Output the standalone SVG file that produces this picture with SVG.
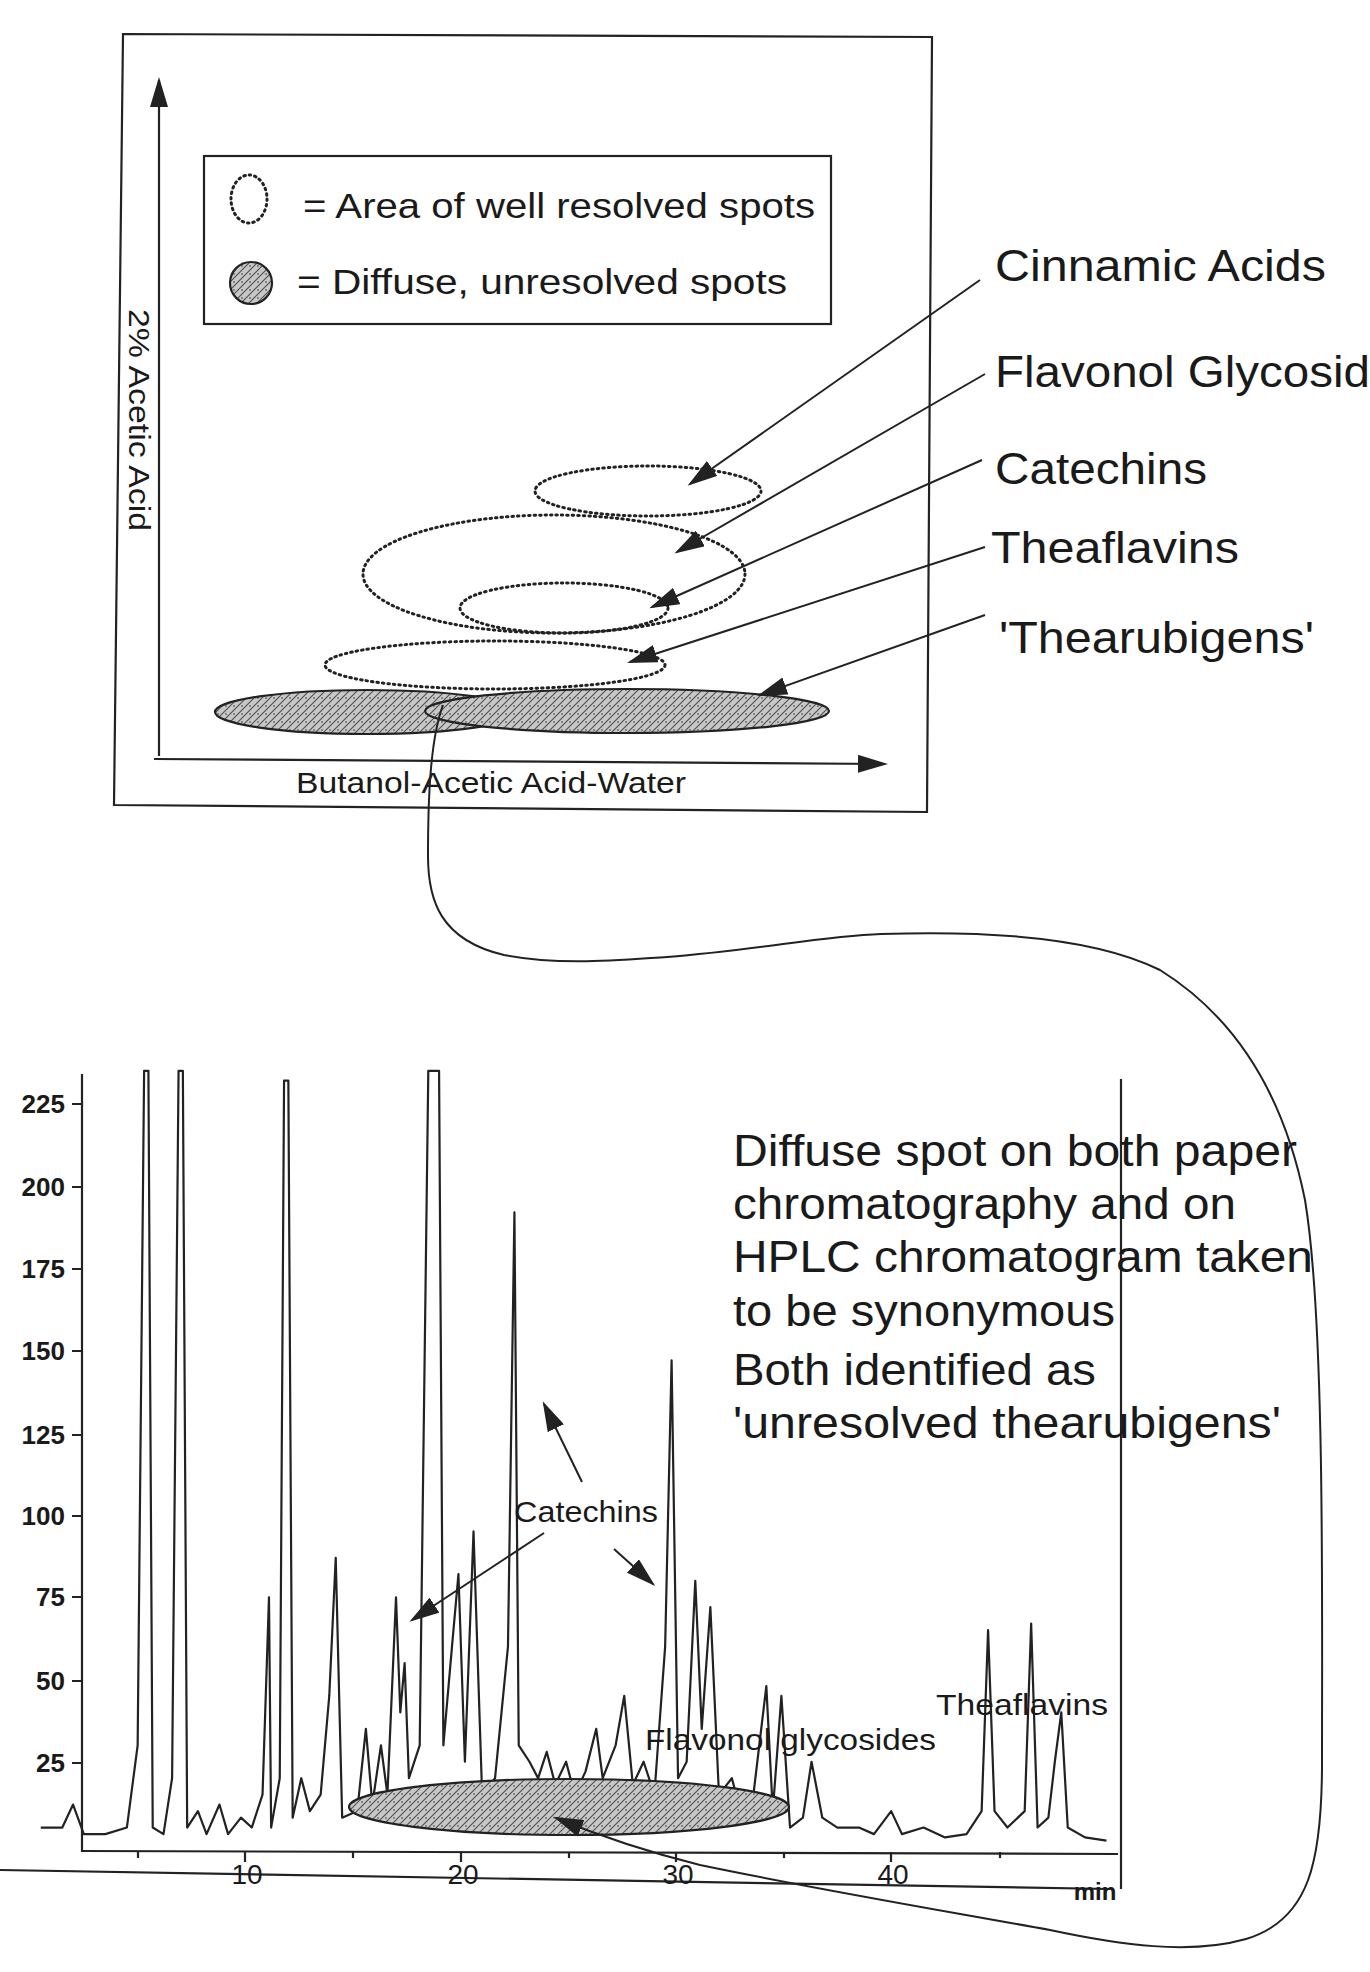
<svg xmlns="http://www.w3.org/2000/svg" width="1370" height="1972" viewBox="0 0 1370 1972">
<style>
.ln{fill:none;stroke:#222;stroke-width:2.2}
.dot{fill:none;stroke:#222;stroke-width:3;stroke-dasharray:1.5 4;stroke-linecap:round}
.sh{fill:url(#hatch);stroke:#222;stroke-width:2.2}
.t{font-family:"Liberation Sans",Arial,sans-serif;fill:#1a1a1a}
</style>
<defs>
<marker id="ah2" viewBox="0 0 10 10" refX="9" refY="5" markerWidth="30" markerHeight="18" markerUnits="userSpaceOnUse" orient="auto" preserveAspectRatio="none"><path d="M0,0 L10,5 L0,10 z" fill="#222"/></marker>
<pattern id="hatch" width="8" height="8" patternUnits="userSpaceOnUse">
<rect width="8" height="8" fill="#c8c8c8"/><path d="M0,8 L8,0 M-2,2 L2,-2 M6,10 L10,6" stroke="#555" stroke-width="1.2"/><circle cx="2" cy="2" r="0.8" fill="#333"/>
</pattern>
</defs>
<rect width="1370" height="1972" fill="#fff"/>
<g id="paper-chart">
<polygon class="ln" points="123,34 932,37 927,812 114,805"/>
<line class="ln" x1="159" y1="756" x2="159" y2="80" style="marker-end:url(#ah2)" stroke-width="2.5"/>
<line class="ln" x1="154" y1="759" x2="885" y2="764" style="marker-end:url(#ah2)" stroke-width="2.5"/>
<text class="t" font-size="30" transform="translate(129,309) rotate(90)" textLength="222" lengthAdjust="spacingAndGlyphs">2% Acetic Acid</text>
<text class="t" font-size="30" x="296" y="793" textLength="390" lengthAdjust="spacingAndGlyphs">Butanol-Acetic Acid-Water</text>
</g>
<g id="legend">
<rect class="ln" x="204" y="156" width="627" height="168"/>
<ellipse class="dot" cx="249" cy="199" rx="18" ry="24"/>
<text class="t" font-size="35" x="303" y="218" textLength="512" lengthAdjust="spacingAndGlyphs">= Area of well resolved spots</text>
<ellipse class="sh" cx="251" cy="283" rx="21" ry="21"/>
<text class="t" font-size="35" x="297" y="294" textLength="490" lengthAdjust="spacingAndGlyphs">= Diffuse, unresolved spots</text>
</g>
<g id="spots">
<ellipse class="dot" cx="648" cy="491" rx="113" ry="25"/>
<ellipse class="dot" cx="554" cy="574" rx="191" ry="59"/>
<ellipse class="dot" cx="564" cy="608" rx="104" ry="25"/>
<ellipse class="dot" cx="495" cy="665" rx="170" ry="24"/>
<ellipse class="sh" cx="367" cy="712" rx="152" ry="22"/>
<ellipse class="sh" cx="627" cy="711" rx="202" ry="22"/>
</g>
<g id="labels" class="t" font-size="44">
<text x="995" y="281" textLength="331" lengthAdjust="spacingAndGlyphs">Cinnamic Acids</text>
<text x="995" y="387" textLength="375" lengthAdjust="spacingAndGlyphs">Flavonol Glycosid</text>
<text x="995" y="484" textLength="212" lengthAdjust="spacingAndGlyphs">Catechins</text>
<text x="991" y="563" textLength="248" lengthAdjust="spacingAndGlyphs">Theaflavins</text>
<text x="999" y="653" textLength="315" lengthAdjust="spacingAndGlyphs">'Thearubigens'</text>
</g>
<g id="chromatogram">
<line class="ln" x1="82" y1="1074" x2="82" y2="1852"/>
<line class="ln" x1="82" y1="1851" x2="1118" y2="1854"/>
<line class="ln" x1="1121" y1="1079" x2="1121" y2="1889"/>
<line class="ln" x1="0" y1="1870" x2="1110" y2="1889"/>
<g class="ln" stroke-width="2">
<path d="M82,1104h-10M82,1187h-10M82,1269h-10M82,1351h-10M82,1435h-10M82,1516h-10M82,1597h-10M82,1681h-10M82,1763h-10"/>
<path d="M245,1852v10M461,1852v10M676,1852v10M891,1852v10M138,1852v6M353,1852v6M569,1852v6M784,1852v6M1000,1852v6"/>
</g>
<g class="t" font-size="26" font-weight="bold" text-anchor="end">
<text x="65" y="1113">225</text><text x="65" y="1196">200</text><text x="65" y="1278">175</text><text x="65" y="1360">150</text><text x="65" y="1444">125</text><text x="65" y="1525">100</text><text x="65" y="1606">75</text><text x="65" y="1690">50</text><text x="65" y="1772">25</text>
</g>
<g class="t" font-size="28" text-anchor="middle">
<text x="247" y="1884">10</text><text x="463" y="1884">20</text><text x="678" y="1884">30</text><text x="893" y="1884">40</text>
<text x="1095" y="1900" font-size="24" font-weight="bold">min</text>
</g>
<polyline transform="matrix(21.53 0 0 -3.29 30 1844)" vector-effect="non-scaling-stroke" fill="none" stroke="#222" stroke-width="2.2" stroke-linejoin="round" points="0.5,5 1.5,5 2.0,12 2.5,3 3.5,3 4.5,5 5.0,30 5.3,235 5.5,235 5.7,5 6.2,3 6.6,20 6.9,235 7.1,235 7.3,5 7.8,10 8.2,3 8.8,12 9.2,3 9.8,8 10.3,5 10.8,15 11.1,75 11.2,5 11.6,20 11.8,232 12.0,232 12.2,8 12.6,20 13.0,10 13.5,15 13.9,45 14.2,87 14.5,8 15.2,10 15.6,35 15.9,12 16.3,30 16.6,15 17.0,75 17.2,40 17.4,55 17.6,20 18.1,30 18.5,235 18.8,235 19.0,235 19.2,30 19.6,60 19.9,82 20.2,25 20.6,95 21.0,15 21.6,20 22.2,60 22.5,192 22.7,30 23.2,25 23.6,20 24.0,28 24.4,18 24.9,25 25.3,15 25.8,22 26.3,35 26.6,20 27.2,30 27.6,45 28.0,18 28.5,25 29.0,15 29.5,60 29.8,147 30.1,20 30.5,25 30.9,80 31.2,35 31.6,72 32.0,15 32.6,20 33.0,10 33.6,15 34.2,48 34.5,10 34.9,45 35.3,5 35.9,8 36.3,25 36.8,8 37.5,5 38.5,5 39.2,3 40.0,10 40.5,3 41.5,5 42.5,2 43.5,3 44.2,10 44.5,65 44.8,10 45.4,5 46.2,10 46.5,67 46.8,5 47.3,8 47.6,25 47.9,40 48.2,5 49.0,2 50,1"/>
<ellipse class="sh" cx="569" cy="1807" rx="220" ry="28"/>
<text class="t" font-size="30" x="514" y="1522" textLength="144" lengthAdjust="spacingAndGlyphs">Catechins</text>
<text class="t" font-size="30" x="645" y="1750" textLength="291" lengthAdjust="spacingAndGlyphs">Flavonol glycosides</text>
<text class="t" font-size="30" x="936" y="1715" textLength="172" lengthAdjust="spacingAndGlyphs">Theaflavins</text>
</g>
<g id="note" class="t" font-size="44">
<text x="733" y="1166" textLength="564" lengthAdjust="spacingAndGlyphs">Diffuse spot on both paper</text>
<text x="733" y="1219" textLength="503" lengthAdjust="spacingAndGlyphs">chromatography and on</text>
<text x="733" y="1272" textLength="580" lengthAdjust="spacingAndGlyphs">HPLC chromatogram taken</text>
<text x="733" y="1326" textLength="382" lengthAdjust="spacingAndGlyphs">to be synonymous</text>
<text x="733" y="1385" textLength="363" lengthAdjust="spacingAndGlyphs">Both identified as</text>
<text x="733" y="1438" textLength="548" lengthAdjust="spacingAndGlyphs">'unresolved thearubigens'</text>
</g>
<g id="connectors" fill="none" stroke="#222" stroke-width="2">
<line x1="980" y1="280" x2="690" y2="484" marker-end="url(#ah2)"/>
<line x1="985" y1="374" x2="677" y2="552" marker-end="url(#ah2)"/>
<line x1="982" y1="460" x2="652" y2="607" marker-end="url(#ah2)"/>
<line x1="985" y1="547" x2="630" y2="662" marker-end="url(#ah2)"/>
<line x1="985" y1="615" x2="760" y2="695" marker-end="url(#ah2)"/>
<line x1="582" y1="1482" x2="544" y2="1404" marker-end="url(#ah2)"/>
<line x1="544" y1="1533" x2="412" y2="1620" marker-end="url(#ah2)"/>
<line x1="614" y1="1549" x2="653" y2="1584" marker-end="url(#ah2)"/>
<path d="M443,705 C430,740 428,800 428,856 C428,900 440,940 504,955 C560,966 620,960 667,957 C760,950 820,936 881,934 C1000,930 1100,940 1160,970 C1240,1020 1285,1100 1305,1200 C1325,1320 1322,1600 1322,1763 C1322,1860 1310,1920 1246,1939 C1190,1955 1120,1945 1050,1930 C940,1910 820,1890 700,1865 C640,1850 590,1832 556,1818" marker-end="url(#ah2)"/>
</g>
</svg>
